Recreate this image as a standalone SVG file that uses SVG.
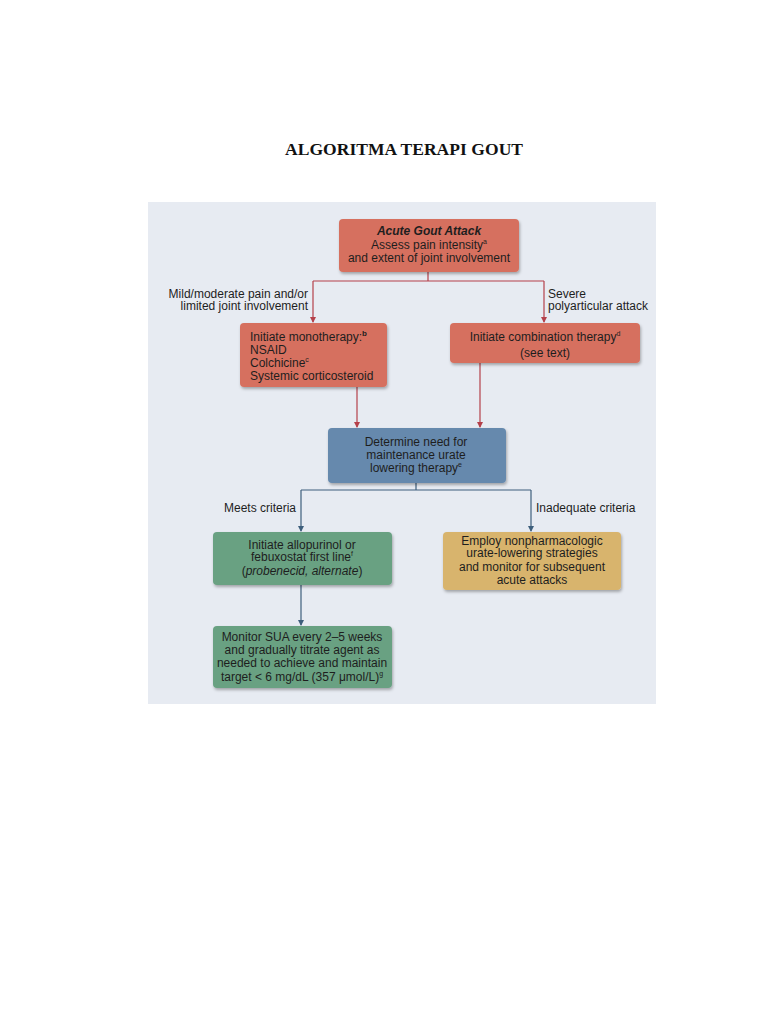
<svg xmlns="http://www.w3.org/2000/svg" width="768" height="1024" viewBox="0 0 768 1024">
<defs>
<style>
.t{font-family:"Liberation Sans",Arial,sans-serif;font-size:12px;fill:#1e1e1e}
.c{text-anchor:middle}
.r{text-anchor:end}
.red{fill:#d6705e}
.blue{fill:#6689ad}
.green{fill:#69a182}
.yellow{fill:#d8b46d}
.lr{stroke:#b5404a;stroke-width:1.2;fill:none}
.lb{stroke:#3e5f7c;stroke-width:1.2;fill:none}
</style>
<filter id="sh" x="-10%" y="-10%" width="125%" height="135%">
<feDropShadow dx="1" dy="2" stdDeviation="1.5" flood-color="#000" flood-opacity="0.3"/>
</filter>
<marker id="ar" markerWidth="6" markerHeight="6" refX="5" refY="3" orient="auto" markerUnits="userSpaceOnUse">
<path d="M0,0 L6,3 L0,6 Z" fill="#b5404a"/>
</marker>
<marker id="ab" markerWidth="6" markerHeight="6" refX="5" refY="3" orient="auto" markerUnits="userSpaceOnUse">
<path d="M0,0 L6,3 L0,6 Z" fill="#3e5f7c"/>
</marker>
</defs>
<rect width="768" height="1024" fill="#ffffff"/>
<text x="404" y="155" text-anchor="middle" font-family="'Liberation Serif','Times New Roman',serif" font-weight="bold" font-size="17.5" fill="#111" textLength="238" lengthAdjust="spacing">ALGORITMA TERAPI GOUT</text>
<rect x="148" y="202" width="508" height="502" fill="#e7ebf2"/>

<g id="connectors">
<path class="lr" d="M428,272 V281 M313,281 H544"/>
<path class="lr" d="M313,281 V322" marker-end="url(#ar)"/>
<path class="lr" d="M544,281 V322" marker-end="url(#ar)"/>
<path class="lr" d="M357,387 V427" marker-end="url(#ar)"/>
<path class="lr" d="M480,363 V427" marker-end="url(#ar)"/>
<path class="lb" d="M416,483 V490 M301,490 H531"/>
<path class="lb" d="M301,490 V531" marker-end="url(#ab)"/>
<path class="lb" d="M531,490 V531" marker-end="url(#ab)"/>
<path class="lb" d="M301,585 V625" marker-end="url(#ab)"/>
<text class="t r" x="308" y="298">Mild/moderate pain and/or</text>
<text class="t r" x="308" y="310">limited joint involvement</text>
<text class="t" x="548" y="298">Severe</text>
<text class="t" x="548" y="310">polyarticular attack</text>
<text class="t r" x="296" y="512">Meets criteria</text>
<text class="t" x="536" y="512">Inadequate criteria</text>
</g>

<g id="acute">
<rect class="red" x="339" y="219" width="180" height="53" rx="4" filter="url(#sh)"/>
<text class="t c" x="429" y="235" font-weight="bold" font-style="italic">Acute Gout Attack</text>
<text class="t c" x="429" y="249">Assess pain intensity<tspan font-size="7" dy="-5">a</tspan></text>
<text class="t c" x="429" y="262">and extent of joint involvement</text>
</g>

<g id="mono">
<rect class="red" x="240" y="323" width="147" height="64" rx="4" filter="url(#sh)"/>
<text class="t" x="250" y="341">Initiate monotherapy:<tspan font-size="8" font-weight="bold" dy="-5">b</tspan></text>
<text class="t" x="250" y="354">NSAID</text>
<text class="t" x="250" y="367">Colchicine<tspan font-size="7" dy="-5">c</tspan></text>
<text class="t" x="250" y="380">Systemic corticosteroid</text>
</g>

<g id="combo">
<rect class="red" x="450" y="323" width="190" height="40" rx="4" filter="url(#sh)"/>
<text class="t c" x="545" y="341">Initiate combination therapy<tspan font-size="7" dy="-5">d</tspan></text>
<text class="t c" x="545" y="357">(see text)</text>
</g>

<g id="determine">
<rect class="blue" x="328" y="428" width="178" height="55" rx="4" filter="url(#sh)"/>
<text class="t c" x="416" y="446">Determine need for</text>
<text class="t c" x="416" y="459">maintenance urate</text>
<text class="t c" x="416" y="472">lowering therapy<tspan font-size="7" dy="-5">e</tspan></text>
</g>

<g id="allopurinol">
<rect class="green" x="213" y="532" width="179" height="53" rx="4" filter="url(#sh)"/>
<text class="t c" x="302" y="549">Initiate allopurinol or</text>
<text class="t c" x="302" y="561">febuxostat first line<tspan font-size="7" dy="-5">f</tspan></text>
<text class="t c" x="302" y="575">(<tspan font-style="italic">probenecid, alternate</tspan>)</text>
</g>

<g id="nonpharm">
<rect class="yellow" x="443" y="532" width="178" height="58" rx="4" filter="url(#sh)"/>
<text class="t c" x="532" y="545">Employ nonpharmacologic</text>
<text class="t c" x="532" y="557">urate-lowering strategies</text>
<text class="t c" x="532" y="571">and monitor for subsequent</text>
<text class="t c" x="532" y="584">acute attacks</text>
</g>

<g id="monitor">
<rect class="green" x="213" y="626" width="179" height="62" rx="4" filter="url(#sh)"/>
<text class="t c" x="302" y="641">Monitor SUA every 2–5 weeks</text>
<text class="t c" x="302" y="654">and gradually titrate agent as</text>
<text class="t c" x="302" y="667">needed to achieve and maintain</text>
<text class="t c" x="302" y="681">target &lt; 6 mg/dL (357 μmol/L)<tspan font-size="7" dy="-5">g</tspan></text>
</g>
</svg>
